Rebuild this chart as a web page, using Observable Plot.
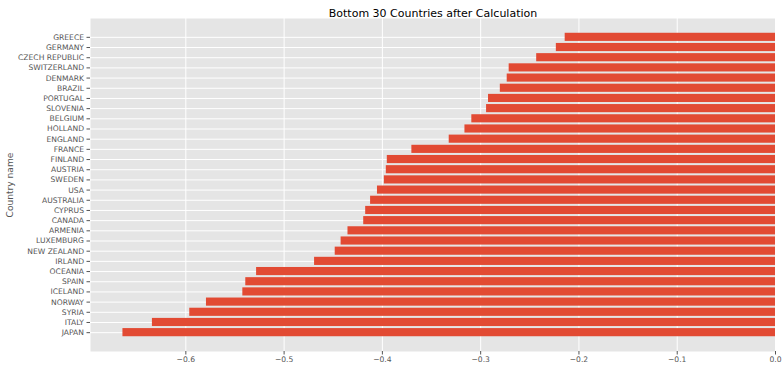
<!DOCTYPE html>
<html><head><meta charset="utf-8">
<script src="https://cdn.jsdelivr.net/npm/d3@7"></script>
<script src="https://cdn.jsdelivr.net/npm/@observablehq/plot@0.6"></script>
<style>body{margin:0;background:#fff} svg{display:block}</style>
</head><body><div id="chart"></div>
<script>
const countries = ["GREECE","GERMANY","CZECH REPUBLIC","SWITZERLAND","DENMARK","BRAZIL","PORTUGAL","SLOVENIA","BELGIUM","HOLLAND","ENGLAND","FRANCE","FINLAND","AUSTRIA","SWEDEN","USA","AUSTRALIA","CYPRUS","CANADA","ARMENIA","LUXEMBURG","NEW ZEALAND","IRLAND","OCEANIA","SPAIN","ICELAND","NORWAY","SYRIA","ITALY","JAPAN"];
const values = [-0.214,-0.223,-0.243,-0.271,-0.273,-0.280,-0.292,-0.294,-0.309,-0.316,-0.332,-0.370,-0.395,-0.396,-0.398,-0.405,-0.412,-0.417,-0.419,-0.435,-0.442,-0.448,-0.469,-0.528,-0.539,-0.542,-0.579,-0.596,-0.634,-0.664];
const xTicks = [-0.6,-0.5,-0.4,-0.3,-0.2,-0.1,0];
const title = "Bottom 30 Countries after Calculation";
const yLabel = "Country name";
const data = countries.map((c,i)=>({country:c, value: values[i]}));
const chart = Plot.plot({
  width:782, height:367, marginLeft:90, marginRight:7, marginTop:18, marginBottom:16,
  style:{fontFamily:"DejaVu Sans", background:"white", overflow:"visible"},
  x:{domain:[-0.697,0]},
  y:{domain:countries, paddingInner:0.2, paddingOuter:1.45, round:false},
  marks:[
    Plot.frame({fill:"#E5E5E5", stroke:null}),
    Plot.gridX(xTicks,{stroke:"white", strokeOpacity:1, strokeWidth:1}),
    Plot.gridY({stroke:"white", strokeOpacity:1, strokeWidth:1}),
    Plot.barX(data,{x1:0, x2:"value", y:"country", fill:"#E24A33"}),
    Plot.axisX(xTicks,{tickFormat:d3.format(".1f"), tickSize:3.5, tickPadding:2, stroke:"#555", fill:"#555", fontSize:7.6, label:null}),
    Plot.axisY({tickSize:3.5, tickPadding:3, stroke:"#555", fill:"#555", fontSize:7.6, label:null}),
    Plot.text([title],{frameAnchor:"top", dy:-9, fontSize:11, fill:"#000"}),
    Plot.text([yLabel],{frameAnchor:"left", textAnchor:"middle", dx:-80, rotate:-90, fontSize:9.1, fill:"#555"})
  ]
});
document.getElementById("chart").append(chart);
</script></body></html>
